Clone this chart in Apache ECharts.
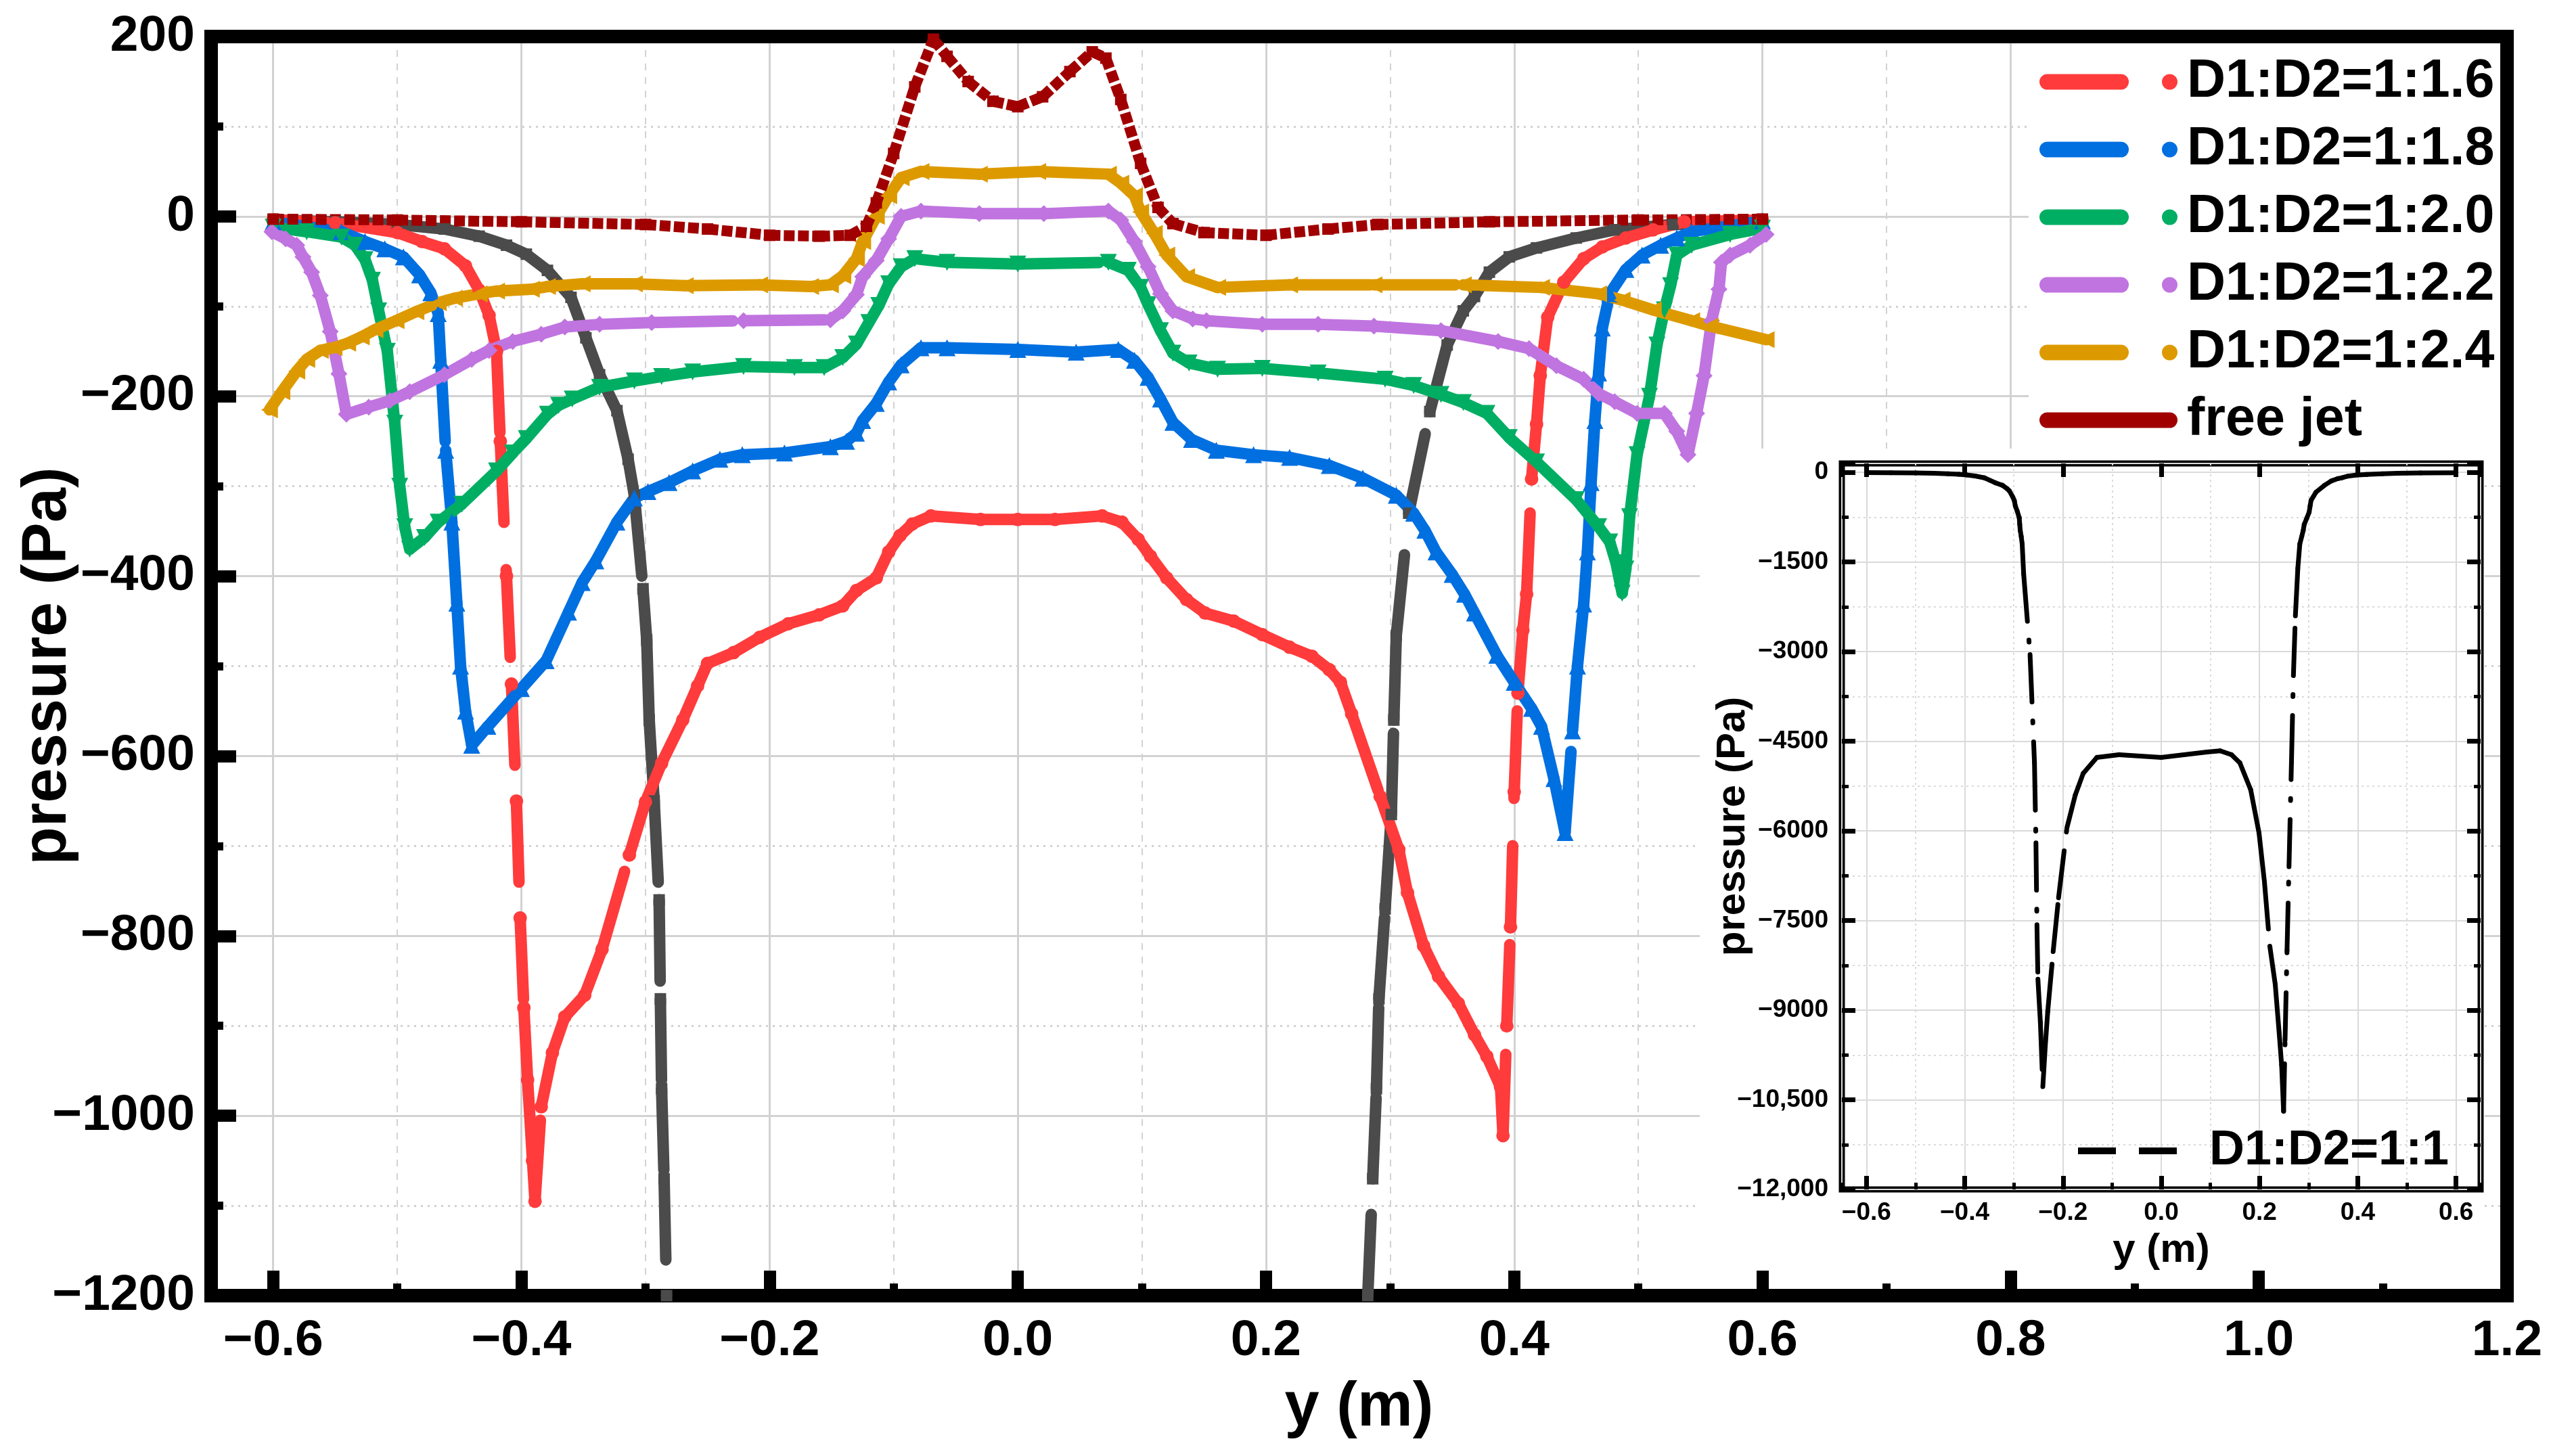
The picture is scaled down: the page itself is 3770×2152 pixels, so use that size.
<!DOCTYPE html>
<html>
<head>
<meta charset="utf-8">
<title>pressure profiles</title>
<script src="https://cdn.jsdelivr.net/npm/echarts@6.0.0/dist/echarts.min.js"></script>
<style>html,body{margin:0;padding:0;background:#fff;}</style>
</head>
<body>
<div id="main" style="width:3770px;height:2152px;"></div>
<script type="text/javascript">
// [y (m), pressure (Pa)]
var ratio16 = [[-0.6,-4],[-0.55,-7],[-0.5,-18],[-0.48,-28],[-0.462,-36],[-0.445,-55],[-0.434,-82],[-0.426,-110],[-0.42,-150],[-0.417,-250],[-0.412,-400],[-0.408,-520],[-0.404,-650],[-0.401,-780],[-0.398,-880],[-0.395,-960],[-0.391,-1050],[-0.389,-1095],[-0.384,-990],[-0.375,-930],[-0.365,-890],[-0.349,-866],[-0.335,-815],[-0.313,-710],[-0.3,-651],[-0.287,-608],[-0.27,-560],[-0.258,-522],[-0.25,-497],[-0.229,-485],[-0.208,-468],[-0.185,-453],[-0.16,-443],[-0.141,-433],[-0.13,-416],[-0.114,-402],[-0.104,-373],[-0.095,-355],[-0.085,-342],[-0.07,-333],[-0.03,-337],[0,-337],[0.03,-337],[0.068,-333],[0.084,-340],[0.097,-359],[0.107,-378],[0.12,-402],[0.136,-426],[0.151,-441],[0.174,-450],[0.197,-465],[0.219,-479],[0.237,-489],[0.251,-504],[0.26,-518],[0.269,-553],[0.292,-645],[0.307,-704],[0.314,-752],[0.327,-811],[0.339,-845],[0.355,-875],[0.368,-910],[0.378,-934],[0.389,-968],[0.391,-1022],[0.394,-900],[0.397,-790],[0.4,-640],[0.403,-530],[0.407,-460],[0.41,-420],[0.414,-292],[0.418,-231],[0.421,-177],[0.427,-112],[0.44,-73],[0.456,-47],[0.471,-34],[0.49,-24],[0.512,-15],[0.537,-6],[0.6,-4]];
var ratio18 = [[-0.6,-6],[-0.545,-17],[-0.526,-28],[-0.51,-36],[-0.495,-45],[-0.482,-65],[-0.473,-85],[-0.467,-108],[-0.465,-160],[-0.461,-260],[-0.456,-340],[-0.452,-430],[-0.449,-500],[-0.445,-550],[-0.44,-588],[-0.427,-567],[-0.4,-525],[-0.38,-494],[-0.362,-440],[-0.351,-407],[-0.34,-383],[-0.323,-340],[-0.309,-313],[-0.298,-306],[-0.281,-296],[-0.262,-283],[-0.24,-270],[-0.222,-265],[-0.188,-263],[-0.151,-256],[-0.138,-250],[-0.13,-241],[-0.125,-227],[-0.114,-208],[-0.104,-184],[-0.094,-165],[-0.078,-146],[-0.057,-146],[0,-148],[0.047,-151],[0.081,-148],[0.094,-160],[0.105,-179],[0.115,-203],[0.125,-229],[0.14,-248],[0.16,-260],[0.19,-265],[0.219,-268],[0.251,-277],[0.278,-291],[0.305,-310],[0.319,-330],[0.328,-349],[0.337,-373],[0.35,-398],[0.36,-420],[0.368,-441],[0.386,-488],[0.4,-518],[0.414,-547],[0.422,-567],[0.432,-625],[0.441,-685],[0.447,-572],[0.451,-500],[0.456,-431],[0.459,-373],[0.462,-296],[0.465,-227],[0.468,-174],[0.471,-124],[0.477,-86],[0.49,-59],[0.503,-43],[0.518,-32],[0.531,-24],[0.543,-17],[0.6,-5]];
var ratio20 = [[-0.6,-12],[-0.573,-17],[-0.545,-23],[-0.534,-32],[-0.526,-48],[-0.52,-71],[-0.515,-105],[-0.508,-150],[-0.502,-230],[-0.498,-300],[-0.494,-345],[-0.49,-370],[-0.478,-357],[-0.467,-340],[-0.448,-320],[-0.42,-283],[-0.407,-263],[-0.396,-247],[-0.379,-220],[-0.37,-210],[-0.359,-203],[-0.337,-190],[-0.309,-183],[-0.287,-178],[-0.262,-173],[-0.221,-167],[-0.18,-168],[-0.156,-168],[-0.141,-157],[-0.13,-142],[-0.12,-118],[-0.112,-99],[-0.104,-75],[-0.094,-56],[-0.083,-47],[-0.057,-51],[0,-53],[0.073,-51],[0.089,-60],[0.099,-79],[0.105,-98],[0.115,-127],[0.125,-152],[0.138,-163],[0.161,-170],[0.197,-169],[0.242,-174],[0.296,-181],[0.319,-188],[0.341,-198],[0.359,-207],[0.378,-219],[0.396,-246],[0.418,-273],[0.45,-315],[0.468,-345],[0.477,-362],[0.482,-385],[0.487,-419],[0.49,-392],[0.493,-334],[0.499,-265],[0.509,-200],[0.515,-143],[0.521,-104],[0.526,-77],[0.531,-43],[0.543,-32],[0.574,-20],[0.6,-13]];
var ratio22 = [[-0.601,-17],[-0.59,-25],[-0.581,-32],[-0.576,-45],[-0.569,-62],[-0.562,-88],[-0.554,-128],[-0.547,-175],[-0.541,-220],[-0.523,-212],[-0.506,-205],[-0.49,-195],[-0.462,-176],[-0.44,-159],[-0.426,-149],[-0.407,-139],[-0.384,-131],[-0.365,-123],[-0.337,-120],[-0.295,-118],[-0.221,-116],[-0.151,-115],[-0.141,-105],[-0.13,-87],[-0.125,-67],[-0.114,-49],[-0.104,-25],[-0.094,0],[-0.078,6],[-0.031,3],[0.021,3],[0.073,6],[0.083,-4],[0.094,-28],[0.105,-56],[0.115,-86],[0.125,-105],[0.141,-114],[0.152,-116],[0.197,-120],[0.242,-120],[0.287,-122],[0.341,-127],[0.387,-139],[0.412,-147],[0.434,-166],[0.456,-181],[0.468,-197],[0.481,-206],[0.499,-219],[0.521,-219],[0.531,-239],[0.54,-265],[0.547,-219],[0.553,-177],[0.559,-116],[0.565,-81],[0.567,-51],[0.574,-43],[0.59,-32],[0.603,-20]];
var ratio24 = [[-0.603,-215],[-0.593,-195],[-0.581,-172],[-0.573,-159],[-0.562,-149],[-0.551,-146],[-0.54,-141],[-0.529,-134],[-0.518,-126],[-0.501,-116],[-0.485,-106],[-0.467,-96],[-0.454,-91],[-0.434,-86],[-0.42,-83],[-0.392,-81],[-0.379,-78],[-0.351,-75],[-0.309,-75],[-0.268,-77],[-0.208,-76],[-0.167,-78],[-0.151,-76],[-0.141,-66],[-0.13,-47],[-0.125,-28],[-0.114,0],[-0.104,23],[-0.094,43],[-0.078,50],[-0.031,47],[0.016,50],[0.073,47],[0.083,37],[0.094,23],[0.099,5],[0.11,-19],[0.12,-43],[0.136,-67],[0.161,-79],[0.219,-76],[0.287,-76],[0.359,-76],[0.422,-79],[0.468,-86],[0.487,-93],[0.512,-104],[0.543,-116],[0.558,-122],[0.603,-137]];
var freeJet = [[-0.6,-3],[-0.5,-4],[-0.4,-6],[-0.3,-9],[-0.25,-14],[-0.2,-21],[-0.16,-22],[-0.135,-21],[-0.122,-11],[-0.114,15],[-0.1,70],[-0.083,144],[-0.068,197],[-0.057,178],[-0.04,150],[-0.02,128],[0,122],[0.02,133],[0.042,161],[0.06,183],[0.071,176],[0.083,130],[0.099,59],[0.113,10],[0.125,-8],[0.15,-18],[0.2,-21],[0.25,-14],[0.29,-9],[0.38,-6],[0.5,-4],[0.6,-3]];
var ratio10 = [[-0.6,-4],[-0.55,-6],[-0.5,-9],[-0.462,-14],[-0.434,-22],[-0.412,-32],[-0.396,-42],[-0.379,-60],[-0.36,-90],[-0.348,-135],[-0.337,-176],[-0.323,-216],[-0.314,-270],[-0.309,-310],[-0.302,-414],[-0.299,-471],[-0.297,-560],[-0.293,-650],[-0.289,-760],[-0.288,-870],[-0.287,-970],[-0.285,-1070],[-0.283,-1200],[-0.28,-1700],[-0.267,-3050],[-0.258,-4860],[-0.255,-6200],[-0.253,-7570],[-0.251,-8480],[-0.246,-9200],[-0.241,-10280],[-0.236,-9600],[-0.231,-9020],[-0.22,-8020],[-0.209,-7120],[-0.192,-5950],[-0.175,-5400],[-0.159,-5040],[-0.131,-4770],[-0.086,-4725],[0,-4770],[0.093,-4680],[0.12,-4660],[0.143,-4725],[0.16,-4860],[0.182,-5310],[0.199,-6035],[0.21,-6850],[0.221,-7930],[0.232,-8570],[0.24,-9380],[0.245,-9920],[0.249,-10690],[0.252,-9500],[0.256,-8000],[0.26,-6600],[0.265,-4860],[0.269,-3400],[0.273,-2400],[0.278,-1600],[0.282,-1200],[0.286,-1070],[0.289,-970],[0.291,-870],[0.296,-770],[0.301,-665],[0.303,-560],[0.305,-466],[0.315,-330],[0.332,-217],[0.346,-143],[0.359,-105],[0.368,-89],[0.38,-62],[0.396,-45],[0.418,-35],[0.45,-24],[0.481,-15],[0.528,-9],[0.6,-6]];

var names = ['D1:D2=1:1.6', 'D1:D2=1:1.8', 'D1:D2=1:2.0', 'D1:D2=1:2.2', 'D1:D2=1:2.4', 'free jet'];
var colors = ['#ff3b3b', '#006fe0', '#00ae63', '#c074e0', '#dd9a00', '#a00000'];
var insetName = 'D1:D2=1:1';

var FONT = 'Liberation Sans';
var MINUS = '\u2212';
var DASHDOT = [120, 70, 6, 74];

var chart = echarts.init(document.getElementById('main'));

function fmtX(v) {
    if (Math.abs(v) < 1e-9) return '0.0';
    return (v < 0 ? MINUS : '') + Math.abs(v).toFixed(1);
}
function fmtY(v) {
    v = Math.round(v);
    return v < 0 ? MINUS + (-v) : String(v);
}
function fmtInsetY(v) {
    v = Math.round(v);
    if (v === 0) return '0';
    var a = String(Math.abs(v));
    if (Math.abs(v) >= 10000) a = a.replace(/\B(?=(\d{3})+(?!\d))/g, ',');
    return (v < 0 ? MINUS : '') + a;
}

// one line element per pair of points, so the dash pattern restarts on every segment
function segLine(name, data, color, width, dash, cap, xi, yi, z) {
    return {
        type: 'custom', name: name, xAxisIndex: xi, yAxisIndex: yi, z: z, clip: true,
        itemStyle: { color: color },
        data: data,
        renderItem: function (params, api) {
            var i = params.dataIndex;
            if (i >= data.length - 1) return null;
            var p0 = api.coord(data[i]);
            var p1 = api.coord(data[i + 1]);
            return {
                type: 'line',
                shape: { x1: p0[0], y1: p0[1], x2: p1[0], y2: p1[1] },
                style: { stroke: color, lineWidth: width, lineDash: dash, lineCap: cap, fill: null }
            };
        }
    };
}
function marks(name, data, color, symbol, size, rotate) {
    return {
        type: 'scatter', name: name, xAxisIndex: 0, yAxisIndex: 0, z: 2,
        symbol: symbol, symbolSize: size, symbolRotate: rotate || 0,
        itemStyle: { color: color, opacity: 1 },
        data: data
    };
}

var ICON_DOT = 'path://M11.5,0H120.5A11.5,11.5,0,0,1,120.5,23H11.5A11.5,11.5,0,0,1,11.5,0ZM181,11.5A11.5,11.5,0,1,1,204,11.5A11.5,11.5,0,1,1,181,11.5Z';
var ICON_BAR = 'path://M11.5,0H192.5A11.5,11.5,0,0,1,192.5,23H11.5A11.5,11.5,0,0,1,11.5,0Z';
var ICON_DASH = 'path://M0,0H56V10H0ZM90,0H146V10H90Z';

var tickFont = { fontSize: 75, fontWeight: 'bold', fontFamily: FONT, color: '#000' };
var insetFont = { fontSize: 37, fontWeight: 'bold', fontFamily: FONT, color: '#000' };
var gridGray = '#d2d2d2';
var off = { show: false };
var noLine = { show: false, onZero: false };

function mainX(extra) {
    return Object.assign({
        type: 'value', gridIndex: 0, min: -0.65, max: 1.2, splitNumber: 9, position: 'bottom',
        axisLine: noLine, axisTick: off, axisLabel: off, splitLine: off
    }, extra);
}
function insetX(extra) {
    return Object.assign({
        type: 'value', gridIndex: 1, min: -0.65, max: 0.65, splitNumber: 6, z: 5, position: 'bottom',
        axisLine: noLine, axisTick: off, axisLabel: off, splitLine: off
    }, extra);
}

var option = {
    backgroundColor: '#fff',
    animation: false,
    grid: [
        { left: 312, top: 54, width: 3393, height: 1861, outerBoundsMode: 'none', containLabel: false,
          show: true, borderColor: '#000', borderWidth: 20, backgroundColor: 'transparent', z: 1 },
        { left: 2722, top: 685, width: 944, height: 1073, outerBoundsMode: 'none', containLabel: false,
          show: true, borderColor: '#000', borderWidth: 9, backgroundColor: 'transparent', z: 5 }
    ],
    graphic: [
        { type: 'rect', z: 1, silent: true, shape: { x: 2998, y: 64, width: 697, height: 612 }, style: { fill: '#fff' } },
        { type: 'rect', z: 1, silent: true, shape: { x: 2512, y: 663, width: 1160, height: 1238 }, style: { fill: '#fff' } }
    ],
    xAxis: [
        mainX({
            z: 3,
            axisTick: { show: true, inside: true, length: 37, lineStyle: { color: '#000', width: 18 } },
            axisLabel: Object.assign({ show: true, margin: 30, showMinLabel: false, showMaxLabel: true, formatter: fmtX }, tickFont),
            name: 'y (m)', nameLocation: 'middle', nameGap: 121, nameMoveOverlap: false,
            nameTextStyle: { fontSize: 92, fontWeight: 'bold', fontFamily: FONT, color: '#000' }
        }),
        mainX({ z: 0, splitNumber: 18, splitLine: { show: true, lineStyle: { color: gridGray, width: 2, type: [10, 10] } } }),
        mainX({ z: 0, splitLine: { show: true, lineStyle: { color: gridGray, width: 3 } } }),
        mainX({ z: 3, splitNumber: 18, axisTick: { show: true, inside: true, length: 18, lineStyle: { color: '#000', width: 12 } } }),
        insetX({
            axisTick: { show: true, inside: true, length: 20, lineStyle: { color: '#000', width: 7 } },
            axisLabel: Object.assign({ show: true, margin: 16, showMinLabel: false, showMaxLabel: false, formatter: fmtX }, insetFont),
            splitLine: { show: true, lineStyle: { color: '#dadada', width: 2 } },
            name: 'y (m)', nameLocation: 'middle', nameGap: 60, nameMoveOverlap: false,
            nameTextStyle: { fontSize: 60, fontWeight: 'bold', fontFamily: FONT, color: '#000' }
        }),
        insetX({
            splitNumber: 13,
            axisTick: { show: true, inside: true, length: 10, lineStyle: { color: '#000', width: 5 } },
            splitLine: { show: true, lineStyle: { color: '#dadada', width: 2, type: [3, 5] } }
        }),
        insetX({
            position: 'top',
            axisTick: { show: true, inside: true, length: 20, lineStyle: { color: '#000', width: 7 } }
        })
    ],
    yAxis: [
        {
            type: 'value', gridIndex: 0, min: -1200, max: 200, interval: 200, z: 0, position: 'left',
            axisLine: noLine,
            axisTick: { show: true, inside: true, length: 37, lineStyle: { color: '#000', width: 18 } },
            minorTick: { show: true, splitNumber: 2, length: 18, lineStyle: { color: '#000', width: 12 } },
            splitLine: { show: true, lineStyle: { color: gridGray, width: 3 } },
            minorSplitLine: { show: true, lineStyle: { color: gridGray, width: 3, type: [3, 7] } },
            axisLabel: Object.assign({ margin: 24, formatter: fmtY }, tickFont),
            name: 'pressure (Pa)', nameLocation: 'middle', nameGap: 194, nameMoveOverlap: false,
            nameTextStyle: { fontSize: 92, fontWeight: 'bold', fontFamily: FONT, color: '#000' }
        },
        {
            type: 'value', gridIndex: 1, min: -12000, max: 150, interval: 1500, z: 5, position: 'left',
            axisLine: noLine,
            axisTick: { show: true, inside: true, length: 20, lineStyle: { color: '#000', width: 7 } },
            minorTick: { show: true, splitNumber: 2, length: 10, lineStyle: { color: '#000', width: 5 } },
            splitLine: { show: true, lineStyle: { color: '#dadada', width: 2 } },
            minorSplitLine: { show: true, lineStyle: { color: '#dadada', width: 2, type: [3, 5] } },
            axisLabel: Object.assign({ margin: 20, showMaxLabel: false, formatter: fmtInsetY }, insetFont),
            name: 'pressure (Pa)', nameLocation: 'middle', nameGap: 131, nameMoveOverlap: false,
            nameTextStyle: { fontSize: 60, fontWeight: 'bold', fontFamily: FONT, color: '#000' }
        },
        {
            type: 'value', gridIndex: 1, position: 'right', min: -12000, max: 150, interval: 1500, z: 5,
            axisLine: noLine, axisLabel: off, splitLine: off,
            axisTick: { show: true, inside: true, length: 20, lineStyle: { color: '#000', width: 7 } },
            minorTick: { show: true, splitNumber: 2, length: 10, lineStyle: { color: '#000', width: 5 } }
        }
    ],
    legend: [
        {
            orient: 'vertical', left: 3014, top: 71, padding: 0, itemGap: 0,
            itemWidth: 204, itemHeight: 23, selectedMode: false, z: 6,
            itemStyle: { borderWidth: 0 },
            textStyle: { fontSize: 79, fontWeight: 'bold', fontFamily: FONT, color: '#000', lineHeight: 100, padding: [0, 0, 0, 9] },
            data: [
                { name: names[0], icon: ICON_DOT },
                { name: names[1], icon: ICON_DOT },
                { name: names[2], icon: ICON_DOT },
                { name: names[3], icon: ICON_DOT },
                { name: names[4], icon: ICON_DOT },
                { name: names[5], icon: ICON_BAR }
            ]
        },
        {
            orient: 'vertical', left: 3071, top: 1661, padding: 0,
            itemWidth: 146, itemHeight: 10, selectedMode: false, z: 7,
            itemStyle: { borderWidth: 0 },
            textStyle: { fontSize: 72, fontWeight: 'bold', fontFamily: FONT, color: '#000', lineHeight: 80, padding: [0, 0, 0, 43] },
            data: [{ name: insetName, icon: ICON_DASH }]
        }
    ],
    series: [
        segLine('D1:D2=1:1 (main)', ratio10, '#4b4b4b', 17, DASHDOT, 'round', 0, 0, 2),
        marks('D1:D2=1:1 (main)', ratio10, '#4b4b4b', 'rect', 17),
        segLine(names[0], ratio16, colors[0], 17, DASHDOT, 'round', 0, 0, 2),
        marks(names[0], ratio16, colors[0], 'circle', 20),
        segLine(names[1], ratio18, colors[1], 17, DASHDOT, 'round', 0, 0, 2),
        marks(names[1], ratio18, colors[1], 'triangle', 25),
        segLine(names[2], ratio20, colors[2], 17, DASHDOT, 'round', 0, 0, 2),
        marks(names[2], ratio20, colors[2], 'triangle', 25, 180),
        segLine(names[3], ratio22, colors[3], 17, DASHDOT, 'round', 0, 0, 2),
        marks(names[3], ratio22, colors[3], 'diamond', 25),
        segLine(names[4], ratio24, colors[4], 17, DASHDOT, 'round', 0, 0, 2),
        marks(names[4], ratio24, colors[4], 'triangle', 25, 90),
        segLine(names[5], freeJet, colors[5], 16, [16, 5], 'butt', 0, 0, 2),
        marks(names[5], freeJet, colors[5], 'rect', 17),
        segLine(insetName, ratio10, '#000', 7, [70, 28, 3, 28], 'round', 4, 1, 6)
    ]
};

chart.setOption(option);
</script>
</body>
</html>
